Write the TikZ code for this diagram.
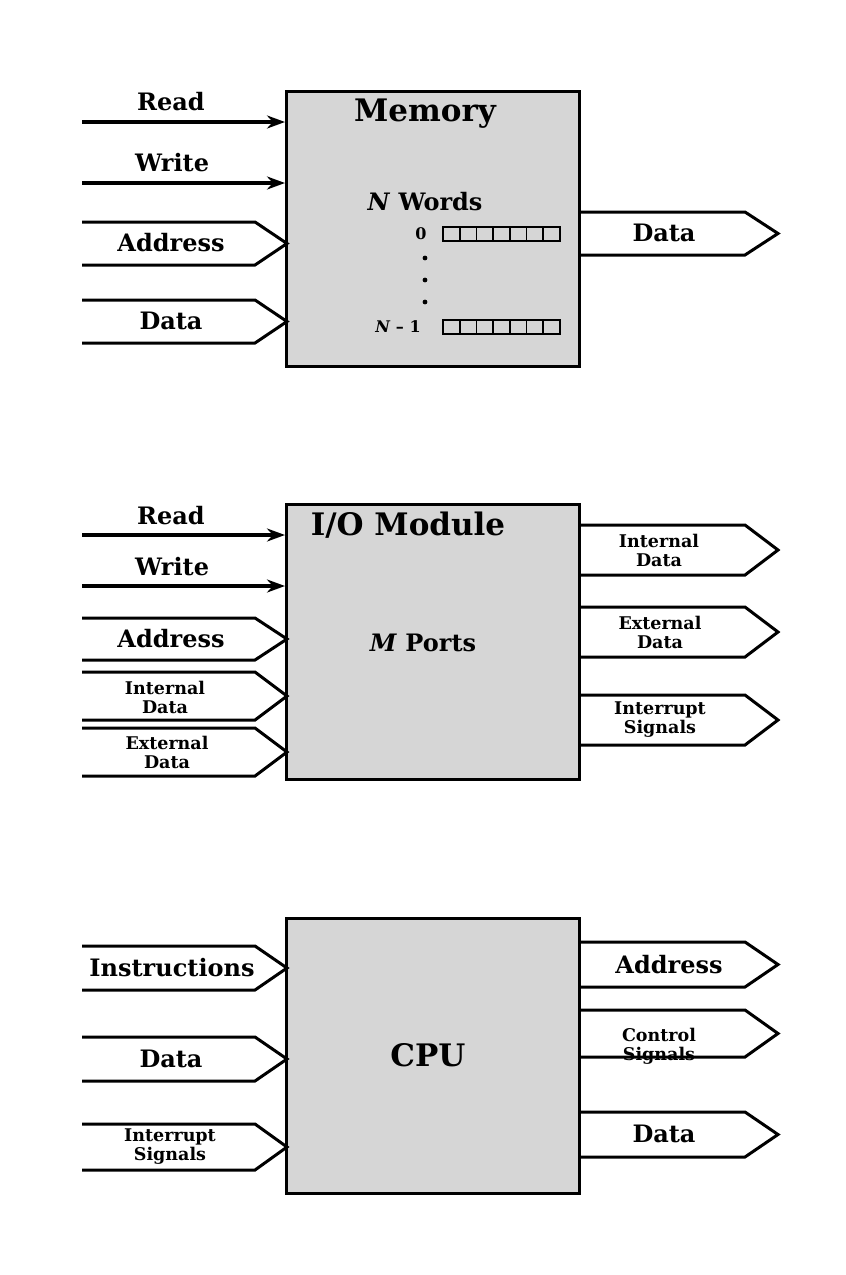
\documentclass[tikz,border=0pt]{standalone}
\usepackage{fontspec}
\setmainfont{DejaVu Serif}
\usetikzlibrary{arrows.meta}
\tikzset{
  box/.style={draw=black,line width=3.2pt,fill=black!16},
  sig/.style={line width=3.2pt,-{Stealth[length=18pt,width=13pt]}},
  bus/.style={line width=3pt,line join=miter},
  lbl/.style={font=\bfseries\fontsize{24}{26}\selectfont,inner sep=0pt},
  slbl/.style={font=\bfseries\fontsize{17.5}{19}\selectfont,align=center,inner sep=0pt},
  ttl/.style={font=\bfseries\fontsize{31}{34}\selectfont,inner sep=0pt}
}
\newcommand{\mybus}[5]{\draw[bus] (#3,#1) -- (#4,#1) -- (#5,{(#1+#2)/2}) -- (#4,#2) -- (#3,#2);}
\newcommand{\mycells}[2]{\foreach \i in {0,...,6}{\draw[line width=1.6pt] ({#1+\i*16.7},#2) rectangle ++(16.7,14);}}
\begin{document}
\begin{tikzpicture}[x=1pt,y=-1pt]
\useasboundingbox (0,0) rectangle (846,1275);
% ---------- Memory ----------
\node[box,minimum width=293pt,minimum height=275pt,anchor=north west] (mem) at (285,90) {};
\node[ttl] (memt) at (425,114) {Memory};
\node[lbl] (nw) at (425,202) {\textit{N} Words};
\node[font=\bfseries\fontsize{16}{16}\selectfont] (z) at (421,234) {0};
\mycells{443}{227}
\foreach \yy in {258,280,302}{\fill (425,\yy) circle (2.4pt);}
\node[font=\bfseries\fontsize{16}{16}\selectfont] (n1) at (398,327) {\textit{N} -- 1};
\mycells{443}{320}
\draw[sig] (82,122) -- (285,122);
\node[lbl] (mr) at (171,102) {Read};
\draw[sig] (82,183) -- (285,183);
\node[lbl] (mw) at (172,163) {Write};
\mybus{222}{265}{82}{255}{287}
\node[lbl] (ma) at (171,243) {Address};
\mybus{300}{343}{82}{255}{287}
\node[lbl] (md) at (171,321) {Data};
\mybus{212}{255}{578}{745}{778}
\node[lbl] (mo) at (664,233) {Data};
% ---------- I/O Module ----------
\node[box,minimum width=293pt,minimum height=275pt,anchor=north west] (io) at (285,503) {};
\node[ttl] (iot) at (408,525) {I/O Module};
\node[lbl] (mp) at (423,643) {\textit{M} Ports};
\draw[sig] (82,535) -- (285,535);
\node[lbl] (ir) at (171,516) {Read};
\draw[sig] (82,586) -- (285,586);
\node[lbl] (iw) at (172,567) {Write};
\mybus{618}{660}{82}{255}{287}
\node[lbl] (ia) at (171,639) {Address};
\mybus{672}{720}{82}{255}{287}
\node[slbl] (iid) at (165,697) {Internal\\Data};
\mybus{728}{776}{82}{255}{287}
\node[slbl] (ied) at (167,752) {External\\Data};
\mybus{525}{575}{578}{745}{778}
\node[slbl] (oid) at (659,550) {Internal\\Data};
\mybus{607}{657}{578}{745}{778}
\node[slbl] (oed) at (660,632) {External\\Data};
\mybus{695}{745}{578}{745}{778}
\node[slbl] (ois) at (660,720) {Interrupt\\Signals};
% ---------- CPU ----------
\node[box,minimum width=293pt,minimum height=275pt,anchor=north west] (cpu) at (285,917) {};
\node[ttl] (cput) at (428,1055) {CPU};
\mybus{946}{990}{82}{255}{287}
\node[lbl] (ci) at (172,968) {Instructions};
\mybus{1037}{1081}{82}{255}{287}
\node[lbl] (cd) at (171,1059) {Data};
\mybus{1124}{1170}{82}{255}{287}
\node[slbl] (cis) at (170,1147) {Interrupt\\Signals};
\mybus{942}{987}{578}{745}{778}
\node[lbl] (ca) at (669,965) {Address};
\mybus{1010}{1057}{578}{745}{778}
\node[slbl] (ccs) at (659,1046) {Control\\Signals};
\mybus{1112}{1157}{578}{745}{778}
\node[lbl] (co) at (664,1134) {Data};
\end{tikzpicture}
\end{document}
